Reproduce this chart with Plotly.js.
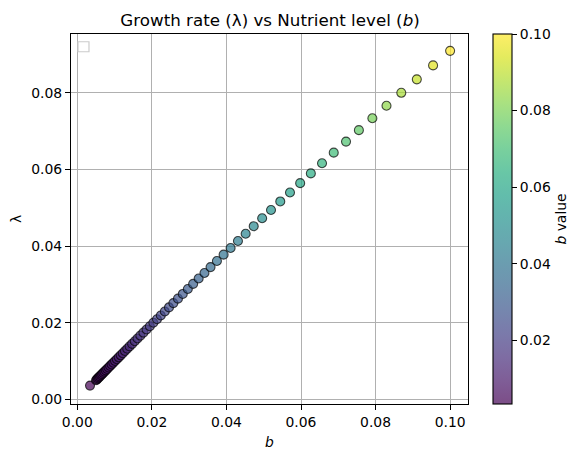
<!DOCTYPE html>
<html>
<head>
<meta charset="utf-8">
<script src="https://cdn.plot.ly/plotly-3.0.1.min.js"></script>
<style>
  body { margin: 0; background: white; }
  #chart { width: 582px; height: 458px; }
</style>
</head>
<body>
<div id="chart"></div>
<script>
// nutrient level b
var b_vals = [0.0034,
  0.005012, 0.005252, 0.005503, 0.005767, 0.006043, 0.006332, 0.006635, 0.006953,
  0.007286, 0.007635, 0.008000, 0.008383, 0.008784, 0.009205, 0.009646, 0.010108,
  0.010592, 0.011099, 0.011630, 0.012187, 0.012770, 0.013382, 0.014023, 0.014694,
  0.015398, 0.016135, 0.016908, 0.017717, 0.018566, 0.019455, 0.020386, 0.021363,
  0.022386, 0.023457, 0.024580, 0.025758, 0.026991, 0.028284, 0.029638, 0.031057,
  0.032544, 0.034102, 0.035735, 0.037446, 0.039239, 0.041118, 0.043088, 0.045151,
  0.047313, 0.049578, 0.051952, 0.054440, 0.057047, 0.059778, 0.062641, 0.065640,
  0.068784, 0.072077, 0.075529, 0.079145, 0.082935, 0.086906, 0.091068, 0.095429,
  0.100000]

// growth rate lambda
var lam_vals = [0.0036,
  0.004987, 0.005225, 0.005473, 0.005734, 0.006007, 0.006292, 0.006591, 0.006905,
  0.007233, 0.007577, 0.007937, 0.008313, 0.008708, 0.009121, 0.009554, 0.010007,
  0.010481, 0.010977, 0.011496, 0.012040, 0.012609, 0.013205, 0.013829, 0.014481,
  0.015164, 0.015879, 0.016627, 0.017409, 0.018228, 0.019084, 0.019979, 0.020916,
  0.021896, 0.022919, 0.023990, 0.025111, 0.026282, 0.027506, 0.028785, 0.030122,
  0.031518, 0.032977, 0.034502, 0.036094, 0.037757, 0.039494, 0.041308, 0.043201,
  0.045176, 0.047236, 0.049386, 0.051629, 0.053968, 0.056406, 0.058948, 0.061597,
  0.064357, 0.067231, 0.070225, 0.073340, 0.076584, 0.079958, 0.083467, 0.087116,
  0.090909]

var tick_vals = [0, 0.02, 0.04, 0.06, 0.08, 0.10]
var tick_text = ['0.00', '0.02', '0.04', '0.06', '0.08', '0.10']
var cbar_vals = [0.02, 0.04, 0.06, 0.08, 0.10]
var cbar_text = ['0.02', '0.04', '0.06', '0.08', '0.10']

// viridis, faded like alpha=0.7
var viridis = ['#440154','#48186a','#472d7b','#424086','#3b528b','#33638d','#2c728e','#26828e',
  '#21918c','#1fa088','#28ae80','#3fbc73','#5ec962','#84d44b','#addc30','#d8e219','#fde725']
var cscale = []
for (var i = 0; i < viridis.length; i++) {
  var h = viridis[i]
  var r = parseInt(h.substr(1,2),16), g = parseInt(h.substr(3,2),16), bl = parseInt(h.substr(5,2),16)
  cscale.push([i / (viridis.length - 1), `rgba(${r},${g},${bl},0.7)`])
}

var font = 'DejaVu Sans, Liberation Sans, sans-serif'

var data = [{
  type: 'scatter',
  mode: 'markers',
  x: b_vals,
  y: lam_vals,
  showlegend: false,
  marker: {
    size: 9,
    color: b_vals,
    colorscale: cscale,
    cmin: Math.min.apply(null, b_vals),
    cmax: Math.max.apply(null, b_vals),
    line: { color: 'rgba(0,0,0,0.7)', width: 1.1 },
    colorbar: {
      x: 1.063, xanchor: 'left', xref: 'paper',
      y: 0.5, yanchor: 'middle', len: 1, lenmode: 'fraction',
      thickness: 19, thicknessmode: 'pixels',
      outlinewidth: 1.1, outlinecolor: '#000',
      tickvals: cbar_vals, ticktext: cbar_text,
      ticks: 'outside', ticklen: 5, tickwidth: 1.1, tickcolor: '#000',
      tickfont: { family: font, size: 13.9, color: '#000' },
      xpad: 0, ypad: 0,
      title: { text: '<i>b</i> value', side: 'right', font: { family: font, size: 13.9, color: '#000' } }
    }
  }
}]

var axis = {
  showgrid: true, gridcolor: '#b0b0b0', gridwidth: 1,
  zeroline: false,
  showline: true, linecolor: '#000', linewidth: 1.1, mirror: true,
  ticks: 'outside', ticklen: 5, tickwidth: 1.1, tickcolor: '#000',
  tickvals: tick_vals, ticktext: tick_text,
  tickfont: { family: font, size: 13.9, color: '#000' }
}

var layout = {
  width: 582, height: 458,
  margin: { l: 71, r: 114, t: 34, b: 54 },
  paper_bgcolor: 'white', plot_bgcolor: 'white',
  title: {
    text: 'Growth rate (λ) vs Nutrient level (<i>b</i>)',
    x: 0.464, xanchor: 'center', y: 0.956, yanchor: 'middle',
    font: { family: font, size: 16.7, color: '#000' }
  },
  xaxis: Object.assign({}, axis, {
    range: [-0.0017, 0.1048],
    title: { text: '<i>b</i>', standoff: 8, font: { family: font, size: 13.9, color: '#000' } }
  }),
  yaxis: Object.assign({}, axis, {
    range: [-0.0012, 0.0953],
    title: { text: 'λ', standoff: 6, font: { family: font, size: 13.9, color: '#000' } }
  }),
  shapes: [{
    // empty legend frame left by matplotlib
    type: 'rect', xref: 'paper', yref: 'paper',
    x0: 0.0176, x1: 0.0453, y0: 0.952, y1: 0.979,
    line: { color: '#cccccc', width: 1.2 }, fillcolor: 'rgba(255,255,255,0.8)'
  }]
}

Plotly.newPlot('chart', data, layout, { displayModeBar: false })
</script>
</body>
</html>
